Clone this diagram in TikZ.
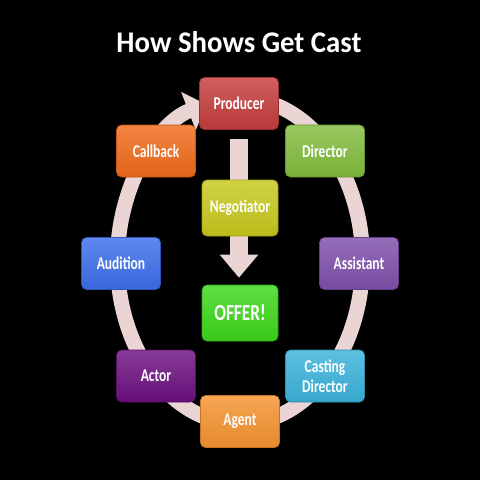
\documentclass[tikz,border=0pt]{standalone}
\usepackage{fontspec}
\setmainfont{Carlito}
\newfontfamily\boxfont{Carlito}[FakeStretch=0.75]
\newfontfamily\titlefont{Carlito}[FakeStretch=0.96]
\usetikzlibrary{arrows.meta}
\definecolor{ringpink}{HTML}{EAD4D4}
\definecolor{cprod}{HTML}{C43C3C}
\definecolor{ccall}{HTML}{F06A1A}
\definecolor{cdir}{HTML}{82BC3C}
\definecolor{cneg}{HTML}{C6C81C}
\definecolor{caud}{HTML}{3C6EEA}
\definecolor{cass}{HTML}{7E4FAA}
\definecolor{coff}{HTML}{3CD61A}
\definecolor{cact}{HTML}{6C1080}
\definecolor{ccast}{HTML}{3AB2DA}
\definecolor{cagent}{HTML}{F4922E}
\tikzset{
  card/.style={rounded corners=5pt, minimum width=79pt, minimum height=52pt,
    inner sep=0pt, text=white, align=center,
    font=\boxfont\bfseries\fontsize{18}{20}\selectfont,
    top color=#1!82!white, bottom color=#1!94!black, draw=#1!80!black, line width=0.6pt},
  midcard/.style={card=#1, minimum width=76pt, minimum height=56pt},
  ringline/.style={draw=ringpink, line width=15pt},
}
\begin{document}
\begin{tikzpicture}[x=1pt,y=-1pt]
\fill[black] (0,0) rectangle (480,480);
\useasboundingbox (0,0) rectangle (480,480);
\node[font=\titlefont\bfseries\fontsize{30}{36}\selectfont, text=white, anchor=base, inner sep=0pt] (title) at (239,52) {How Shows Get Cast};
\coordinate (rc) at (240,261);
\draw[ringline, -{Triangle[width=40pt,length=19pt]}] (rc) ++(-80:122.6 and 163) arc[start angle=-80, end angle=254, x radius=122.6, y radius=163];
\node[card=cprod] (prod) at (239,103.5) {Producer};
\node[card=ccall] (call) at (156,151) {Callback};
\node[card=cdir] (dir) at (325,151) {Director};
\node[card=caud] (aud) at (121,263.5) {Audition};
\node[card=cass] (ass) at (359,263.5) {Assistant};
\node[card=cact] (act) at (156,376) {Actor};
\node[card=ccast] (cast) at (325,376) {Casting\\Director};
\node[card=cagent] (agent) at (240,421.5) {Agent};
\node[midcard=coff, font=\boxfont\bfseries\fontsize{23}{26}\selectfont] (offer) at (240,313) {OFFER!};
\draw[draw=ringpink, line width=18pt, shorten <=9pt, shorten >=7pt, -{Triangle[width=37pt,length=23pt]}] (prod.south) -- (prod.south |- offer.north);
\node[midcard=cneg] (neg) at (240,208) {Negotiator};
\end{tikzpicture}
\end{document}
